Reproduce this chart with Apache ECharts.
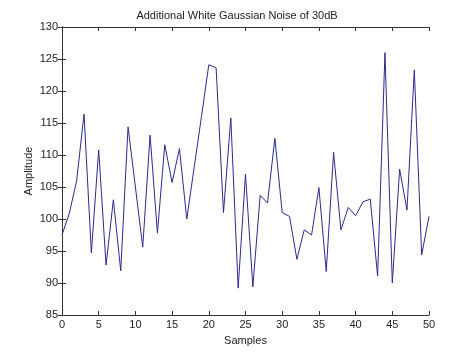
<!DOCTYPE html>
<html>
<head>
<meta charset="utf-8">
<script src="https://cdn.jsdelivr.net/npm/echarts@6/dist/echarts.min.js"></script>
<style>
html, body { margin: 0; padding: 0; background: #fff; }
#chart { width: 474px; height: 354px; }
</style>
</head>
<body>
<div id="chart"></div>
<script>
// samples 0..50
const samples = [];
for (let i = 0; i <= 50; i++) samples.push(i);

const amplitude = [
  97.5, 100.9, 106, 116.4, 94.7, 110.8, 92.8, 103, 91.9, 114.4,
  105, 95.6, 113.1, 97.8, 111.6, 105.7, 111, 100, 108, 116,
  124.1, 123.6, 101, 115.8, 89.2, 107, 89.4, 103.7, 102.5, 112.6,
  101, 100.4, 93.7, 98.3, 97.5, 104.9, 91.8, 110.4, 98.3, 101.8,
  100.5, 102.7, 103.1, 91.1, 126, 90, 107.8, 101.4, 123.3, 94.4,
  100.4
];

const xTicks = [0, 5, 10, 15, 20, 25, 30, 35, 40, 45, 50];
const yTicks = [85, 90, 95, 100, 105, 110, 115, 120, 125, 130];

const chart = echarts.init(document.getElementById('chart'));

const font = { color: '#222', fontSize: 11, fontFamily: 'Liberation Sans, Arial, sans-serif' };
const axisLineStyle = { show: true, lineStyle: { color: '#333', width: 1 } };
const tickStyle = { show: true, inside: true, length: 4, lineStyle: { color: '#333' } };

chart.setOption({
  backgroundColor: '#fff',
  animation: false,
  title: {
    text: 'Additional White Gaussian Noise of 30dB',
    left: 'center',
    top: 5,
    textStyle: { color: '#222', fontSize: 11, fontWeight: 'normal', fontFamily: 'Liberation Sans, Arial, sans-serif' }
  },
  grid: { left: 62, right: 45, top: 27, bottom: 39 },
  xAxis: [
    {
      type: 'value',
      min: xTicks[0],
      max: xTicks[xTicks.length - 1],
      interval: 5,
      name: 'Samples',
      nameLocation: 'middle',
      nameGap: 20,
      nameMoveOverlap: false,
      nameTextStyle: font,
      axisLine: axisLineStyle,
      axisTick: tickStyle,
      axisLabel: Object.assign({ margin: 4 }, font),
      splitLine: { show: false }
    },
    {
      type: 'value',
      position: 'top',
      min: 0, max: 50, interval: 5,
      axisLine: axisLineStyle,
      axisTick: tickStyle,
      axisLabel: { show: false },
      splitLine: { show: false }
    }
  ],
  yAxis: [
    {
      type: 'value',
      min: yTicks[0],
      max: yTicks[yTicks.length - 1],
      interval: 5,
      name: 'Amplitude',
      nameLocation: 'middle',
      nameGap: 28,
      nameMoveOverlap: false,
      nameTextStyle: font,
      axisLine: axisLineStyle,
      axisTick: tickStyle,
      axisLabel: Object.assign({ margin: 4 }, font),
      splitLine: { show: false }
    },
    {
      type: 'value',
      position: 'right',
      min: 85, max: 130, interval: 5,
      axisLine: axisLineStyle,
      axisTick: tickStyle,
      axisLabel: { show: false },
      splitLine: { show: false }
    }
  ],
  series: [
    {
      type: 'line',
      data: samples.map((s, i) => [s, amplitude[i]]),
      showSymbol: false,
      lineStyle: { color: '#2b2b8f', width: 1 }
    }
  ]
});
</script>
</body>
</html>
